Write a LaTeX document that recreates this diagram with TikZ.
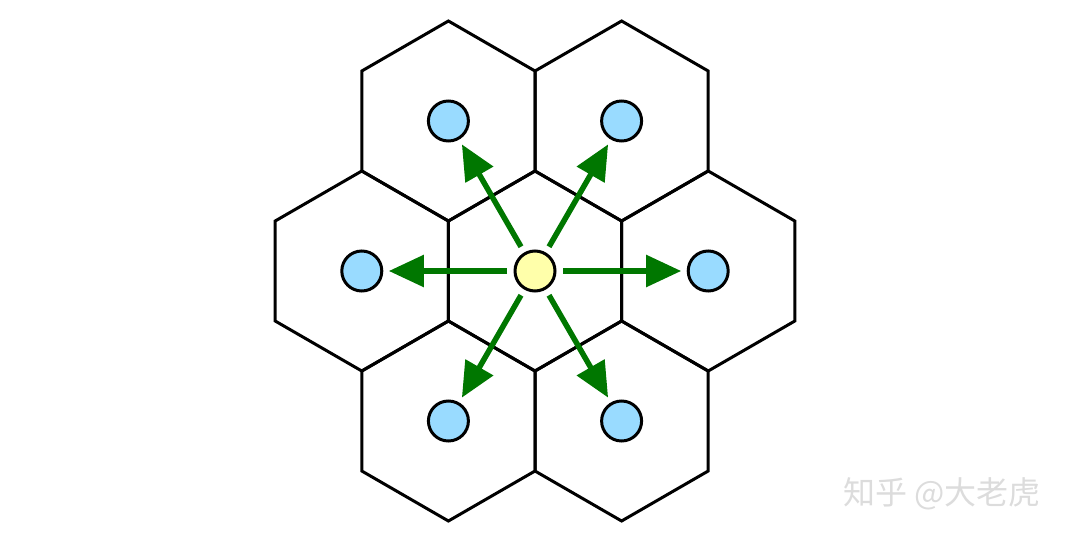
\documentclass[tikz,border=0pt]{standalone}
\usepackage{fontspec}
\newfontfamily\cjk{Noto Sans CJK SC}
\usetikzlibrary{arrows.meta}
\definecolor{dotblue}{RGB}{153,219,255}
\definecolor{dotyellow}{RGB}{255,255,170}
\definecolor{arrgreen}{RGB}{0,119,0}
\definecolor{wmgray}{RGB}{220,220,220}
\tikzset{
  hexline/.style={line width=3pt, line join=miter, black},
  bluedot/.style={circle, draw=black, line width=3pt, fill=dotblue, minimum size=40pt, inner sep=0pt},
  yellowdot/.style={circle, draw=black, line width=3pt, fill=dotyellow, minimum size=40pt, inner sep=0pt},
  arr/.style={line width=5.5pt, arrgreen, -{Triangle[length=35pt,width=31pt]}, shorten <=6.5pt, shorten >=5.5pt},
  watermark/.style={text=wmgray, font=\cjk\fontsize{32}{32}\selectfont, inner sep=0pt}
}
\begin{document}
\begin{tikzpicture}[x=1pt,y=-1pt]
\useasboundingbox (0,0) rectangle (1070,540);
% hexagons
\foreach \hx/\hy in {535/271, 708.2/271, 361.8/271, 448.4/121, 621.6/121, 448.4/421, 621.6/421}{
  \draw[hexline] (\hx,\hy) +(90:100) -- +(30:100) -- +(-30:100) -- +(-90:100) -- +(-150:100) -- +(150:100) -- cycle;
}
% nodes
\node[bluedot] (e) at (708.2,271) {};
\node[bluedot] (w) at (361.8,271) {};
\node[bluedot] (nw) at (448.4,121) {};
\node[bluedot] (ne) at (621.6,121) {};
\node[bluedot] (sw) at (448.4,421) {};
\node[bluedot] (se) at (621.6,421) {};
\node[yellowdot] (c) at (535,271) {};
% arrows
\foreach \t in {e,w,nw,ne,sw,se}{
  \draw[arr] (c) -- (\t);
}
% watermark
\node[watermark, anchor=center] (wm) at (942,494) {知乎 @大老虎};
\end{tikzpicture}
\end{document}
